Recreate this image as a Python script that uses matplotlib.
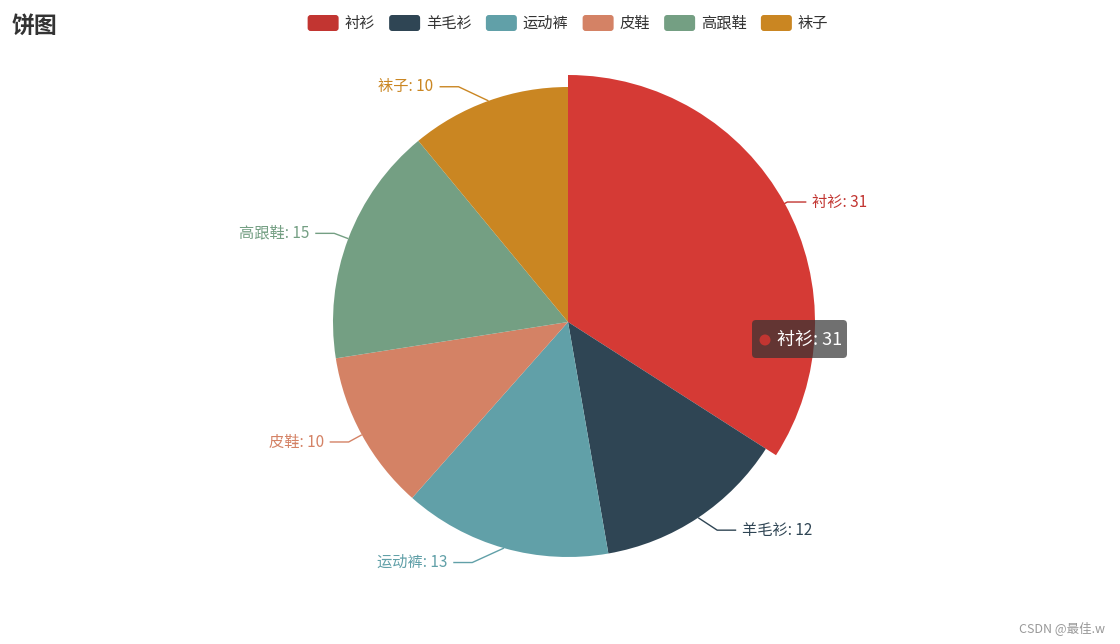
import numpy as np
import matplotlib
matplotlib.use("Agg")
import matplotlib.pyplot as plt
from matplotlib.patches import FancyBboxPatch, Circle

plt.rcParams['font.family'] = ['Noto Sans CJK SC', 'DejaVu Sans']

# 数据
categories = ['衬衫', '羊毛衫', '运动裤', '皮鞋', '高跟鞋', '袜子']
values = [31, 12, 13, 10, 15, 10]
colors = ['#c23531', '#2f4554', '#61a0a8', '#d48265', '#749f83', '#ca8622']
highlight_color = '#d53a35'

W, H = 1120, 644
cx, cy = 568, H - 322
radius = 235
radius_hl = 247


def Y(y):
    # 图片坐标 (y 向下) 转为绘图坐标
    return H - y


fig = plt.figure(figsize=(W / 100, H / 100), dpi=100)
ax = fig.add_axes([0, 0, 1, 1])

wedges, _ = ax.pie(values, colors=colors, startangle=90, counterclock=False,
                   center=(cx, cy), radius=radius,
                   wedgeprops=dict(linewidth=0, zorder=2))
# pie 会改动坐标范围, 之后再设置
ax.set_xlim(0, W)
ax.set_ylim(0, H)
ax.set_aspect('equal')
ax.axis('off')

# 第一块处于高亮状态
wedges[0].set_radius(radius_hl)
wedges[0].set_facecolor(highlight_color)

# 外部标签与引导线 (靠近上下方的标签向外侧移开一些)
len1, len2, gap = 15, 19, 6
for w, name, val, col in zip(wedges, categories, values, colors):
    mid = np.deg2rad((w.theta1 + w.theta2) / 2)
    side = 1 if np.cos(mid) >= 0 else -1
    x0, y0 = cx + radius * np.cos(mid), cy + radius * np.sin(mid)
    shift = max(0.0, abs(np.sin(mid)) - 0.75) * 130
    x1 = cx + (radius + len1) * np.cos(mid) + side * shift
    y1 = cy + (radius + len1) * np.sin(mid)
    x2 = x1 + side * len2
    ax.plot([x0, x1, x2], [y0, y1, y1], color=col, lw=1, zorder=1,
            solid_capstyle='butt')
    ax.text(x2 + side * gap, y1, f'{name}: {val}', color=col, fontsize=11,
            ha='left' if side > 0 else 'right', va='center')

# 标题
ax.text(12, Y(26), '饼图', fontsize=16.5, fontweight='bold', color='#333333',
        ha='left', va='center')

# 图例 (居中排列)
fig.canvas.draw()
renderer = fig.canvas.get_renderer()
item_w, item_h, text_gap, item_gap = 31, 16, 6, 14
leg_y = Y(23)
widths = []
for name in categories:
    t = ax.text(0, 0, name, fontsize=11)
    bb = t.get_window_extent(renderer)
    widths.append(bb.width)
    t.remove()
total = sum(item_w + text_gap + tw for tw in widths) + item_gap * (len(categories) - 1)
x = 568 - total / 2
for name, col, tw in zip(categories, colors, widths):
    ax.add_patch(FancyBboxPatch((x + 3, leg_y - item_h / 2 + 3), item_w - 6, item_h - 6,
                                boxstyle='round,pad=3', fc=col, ec='none'))
    ax.text(x + item_w + text_gap, leg_y, name, fontsize=11, color='#333333',
            ha='left', va='center')
    x += item_w + text_gap + tw + item_gap

# 悬停提示框
tx0, ty0, tx1, ty1 = 752, 320, 847, 358
ax.add_patch(FancyBboxPatch((tx0 + 4, Y(ty1) + 4), tx1 - tx0 - 8, ty1 - ty0 - 8,
                            boxstyle='round,pad=4', fc=(0.2, 0.2, 0.2, 0.7), ec='none',
                            zorder=5))
ax.add_patch(Circle((765, Y(340)), 5.5, fc=colors[0], ec='none', zorder=6))
ax.text(777, Y(340), f'{categories[0]}: {values[0]}', color='white', fontsize=13,
        ha='left', va='center', zorder=6)

# 水印
ax.text(1105, Y(628), 'CSDN @最佳.w', color='#999999', fontsize=9,
        ha='right', va='center')

fig.savefig('out.png', dpi=100)
